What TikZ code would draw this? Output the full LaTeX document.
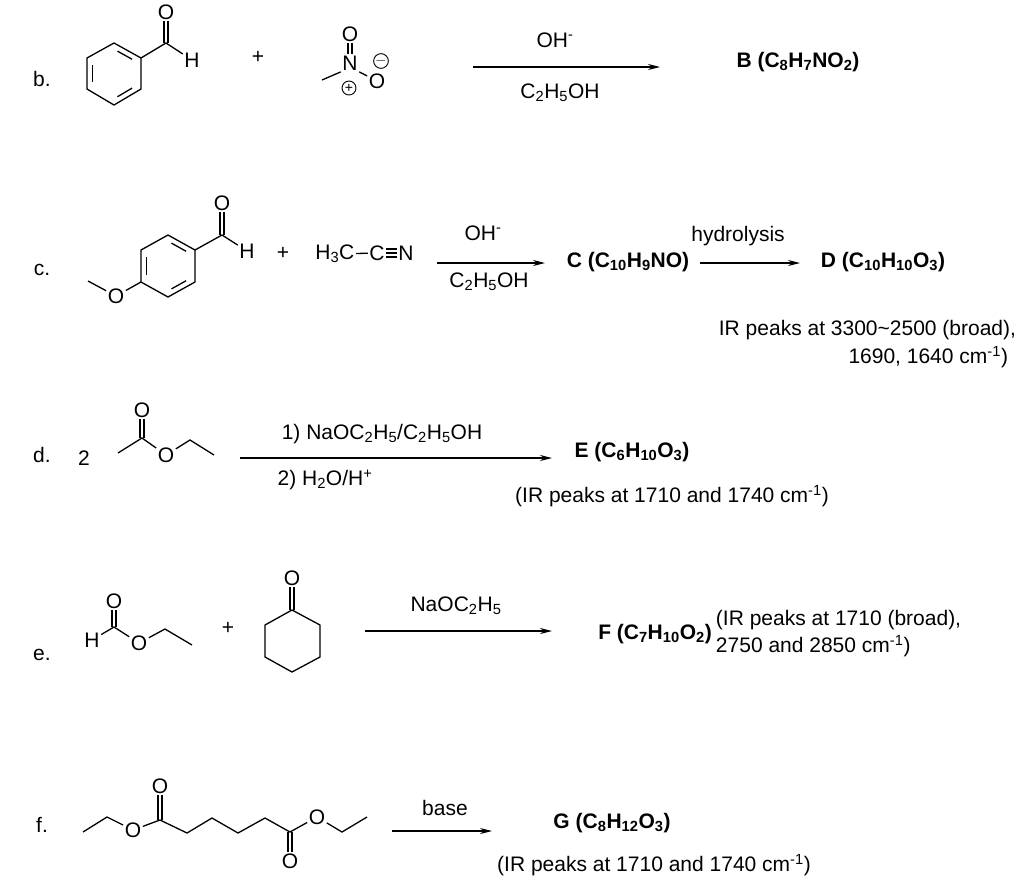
\documentclass[tikz,border=0pt]{standalone}
\usepackage{fontspec}
\setmainfont{Liberation Sans}
\usetikzlibrary{calc,arrows.meta}
\newcommand{\subs}[1]{\textsubscript{#1}}
\newcommand{\sps}[1]{\textsuperscript{#1}}
\newcommand{\arom}[3]{\draw[shorten >=4pt,shorten <=4pt] ($(#1)!0.2!(#3)$) -- ($(#2)!0.2!(#3)$);}
\begin{document}
\begin{tikzpicture}[x=1pt,y=-1pt,line width=1.3pt,
  every node/.style={font=\fontsize{21}{25}\selectfont},
  atm/.style={inner sep=1pt},
  lbl/.style={inner sep=1pt},
  prod/.style={inner sep=1pt,font=\fontsize{21}{25}\selectfont\bfseries},
  chg/.style={circle,draw,line width=0.9pt,inner sep=0pt,minimum size=14pt,font=\fontsize{14}{14}\selectfont},
  rxn/.style={-{Stealth[length=12pt,width=6pt]},line width=1.1pt}]
\useasboundingbox (0,0) rectangle (1024,887);
% ---------- b ----------
\node[lbl] (lb) at (42,79) {b.};
\coordinate (b1) at (114,43); \coordinate (b2) at (141,58); \coordinate (b3) at (141,89);
\coordinate (b4) at (114,105); \coordinate (b5) at (87,89); \coordinate (b6) at (87,58);
\coordinate (bc) at (114,74);
\draw (b1)--(b2)--(b3)--(b4)--(b5)--(b6)--cycle;
\arom{b1}{b2}{bc}\arom{b3}{b4}{bc}\arom{b5}{b6}{bc}
\coordinate (bC) at (166,43);
\node[atm] (bO) at (166,12) {O};
\node[atm] (bH) at (192,60) {H};
\draw (b2)--(bC)--(bH);
\draw ($(bC)+(-2,0)$) -- ($(bO.south)+(-2,0)$);
\draw ($(bC)+(2,0)$) -- ($(bO.south)+(2,0)$);
\node (bplus) at (258,57) {+};
\node[atm] (nN) at (350,63) {N};
\node[atm] (nO1) at (350,34) {O};
\node[atm] (nO2) at (377,81) {O};
\coordinate (nMe) at (322,80);
\draw (nMe)--(nN.south west);
\draw (nN.south east)--(nO2);
\draw ($(nN.north)+(-2,0)$) -- ($(nO1.south)+(-2,0)$);
\draw ($(nN.north)+(2,0)$) -- ($(nO1.south)+(2,0)$);
\node[chg] (pc) at (349,88) {+};
\node[chg] (mc) at (381,61) {$-$};
\coordinate (ab1) at (473,67); \coordinate (ab2) at (660,67);
\draw[rxn] (ab1)--(ab2);
\node (bOH) at (555,40) {OH\sps{-}};
\node (bEt) at (560,93) {C\subs{2}H\subs{5}OH};
\node[prod] (B) at (798,62) {B (C\subs{8}H\subs{7}NO\subs{2})};
% ---------- c ----------
\node[lbl] (lc) at (42,270) {c.};
\coordinate (c1) at (168,235); \coordinate (c2) at (195,250); \coordinate (c3) at (195,282);
\coordinate (c4) at (168,297); \coordinate (c5) at (141,282); \coordinate (c6) at (141,250);
\coordinate (cc) at (168,266);
\draw (c1)--(c2)--(c3)--(c4)--(c5)--(c6)--cycle;
\arom{c1}{c2}{cc}\arom{c3}{c4}{cc}\arom{c5}{c6}{cc}
\coordinate (cC) at (222,235);
\node[atm] (cO) at (222,203) {O};
\node[atm] (cH) at (247,251) {H};
\draw (c2)--(cC)--(cH);
\draw ($(cC)+(-2,0)$) -- ($(cO.south)+(-2,0)$);
\draw ($(cC)+(2,0)$) -- ($(cO.south)+(2,0)$);
\node[atm] (cOm) at (116,296) {O};
\coordinate (cMe) at (88,281);
\draw (c5)--(cOm)--(cMe);
\node (cplus) at (283,253) {+};
\node[atm,anchor=east] (cH3C) at (356,254) {H\subs{3}C};
\node[atm] (cCn) at (377,253) {C};
\node[atm] (cN) at (406,253) {N};
\draw (cH3C)--(cCn);
\draw (cCn.east)--(cN.west);
\draw ($(cCn.east)+(0,-4)$)--($(cN.west)+(0,-4)$);
\draw ($(cCn.east)+(0,4)$)--($(cN.west)+(0,4)$);
\coordinate (ac1) at (437,263); \coordinate (ac2) at (545,263);
\draw[rxn] (ac1)--(ac2);
\node (cOH) at (483,233) {OH\sps{-}};
\node (cEt) at (489,282) {C\subs{2}H\subs{5}OH};
\node[prod] (C) at (628,262) {C (C\subs{10}H\subs{9}NO)};
\coordinate (ac3) at (700,263); \coordinate (ac4) at (800,263);
\draw[rxn] (ac3)--(ac4);
\node (hyd) at (738,236) {hydrolysis};
\node[prod] (D) at (883,262) {D (C\subs{10}H\subs{10}O\subs{3})};
\node[anchor=east] (Dir1) at (1020,330) {IR peaks at 3300\textasciitilde 2500 (broad),};
\node[anchor=east] (Dir2) at (1012,357) {1690, 1640 cm\sps{-1})};
% ---------- d ----------
\node[lbl] (ld) at (42,455) {d.};
\node (d2) at (84,458) {2};
\coordinate (dMe) at (118,453); \coordinate (dC) at (142,438);
\node[atm] (dO) at (142,410) {O};
\node[atm] (dOe) at (166,455) {O};
\coordinate (dCH2) at (190,440); \coordinate (dCH3) at (214,455);
\draw (dMe)--(dC)--(dOe)--(dCH2)--(dCH3);
\draw ($(dC)+(-2,0)$) -- ($(dO.south)+(-2,0)$);
\draw ($(dC)+(2,0)$) -- ($(dO.south)+(2,0)$);
\coordinate (ad1) at (240,458); \coordinate (ad2) at (552,458);
\draw[rxn] (ad1)--(ad2);
\node (dr1) at (382,434) {1) NaOC\subs{2}H\subs{5}/C\subs{2}H\subs{5}OH};
\node (dr2) at (325,480) {2) H\subs{2}O/H\sps{+}};
\node[prod] (E) at (632,452) {E (C\subs{6}H\subs{10}O\subs{3})};
\node (Eir) at (672,496) {(IR peaks at 1710 and 1740 cm\sps{-1})};
% ---------- e ----------
\node[lbl] (le) at (42,655) {e.};
\node[atm] (eH) at (92,640) {H};
\coordinate (eC) at (114,627);
\node[atm] (eO) at (114,601) {O};
\node[atm] (eOe) at (139,643) {O};
\coordinate (eCH2) at (165,629); \coordinate (eCH3) at (192,645);
\draw (eH)--(eC)--(eOe)--(eCH2)--(eCH3);
\draw ($(eC)+(-2,0)$) -- ($(eO.south)+(-2,0)$);
\draw ($(eC)+(2,0)$) -- ($(eO.south)+(2,0)$);
\node (eplus) at (228,628) {+};
\coordinate (k1) at (292,610); \coordinate (k2) at (320,625); \coordinate (k3) at (320,657);
\coordinate (k4) at (292,672); \coordinate (k5) at (265,657); \coordinate (k6) at (265,625);
\draw (k1)--(k2)--(k3)--(k4)--(k5)--(k6)--cycle;
\node[atm] (kO) at (292,578) {O};
\draw ($(k1)+(-2,0)$) -- ($(kO.south)+(-2,0)$);
\draw ($(k1)+(2,0)$) -- ($(kO.south)+(2,0)$);
\coordinate (ae1) at (365,631); \coordinate (ae2) at (552,631);
\draw[rxn] (ae1)--(ae2);
\node (er) at (456,606) {NaOC\subs{2}H\subs{5}};
\node[prod] (F) at (655,634) {F (C\subs{7}H\subs{10}O\subs{2})};
\node[anchor=west] (Fir1) at (712,620) {(IR peaks at 1710 (broad),};
\node[anchor=west] (Fir2) at (712,646) {2750 and 2850 cm\sps{-1})};
% ---------- f ----------
\node[lbl] (lf) at (42,825) {f.};
\coordinate (f1) at (83,832); \coordinate (f2) at (107,817);
\node[atm] (fO1) at (133,830) {O};
\coordinate (f3) at (160,820);
\node[atm] (fOt) at (160,786) {O};
\coordinate (f4) at (187,833); \coordinate (f5) at (212,818); \coordinate (f6) at (238,833);
\coordinate (f7) at (265,818); \coordinate (f8) at (290,832);
\node[atm] (fOb) at (290,861) {O};
\node[atm] (fO2) at (317,817) {O};
\coordinate (f9) at (342,832); \coordinate (f10) at (367,817);
\draw (f1)--(f2)--(fO1)--(f3)--(f4)--(f5)--(f6)--(f7)--(f8)--(fO2)--(f9)--(f10);
\draw ($(f3)+(-2,0)$) -- ($(fOt.south)+(-2,0)$);
\draw ($(f3)+(2,0)$) -- ($(fOt.south)+(2,0)$);
\draw ($(f8)+(-2,0)$) -- ($(fOb.north)+(-2,0)$);
\draw ($(f8)+(2,0)$) -- ($(fOb.north)+(2,0)$);
\coordinate (af1) at (392,831); \coordinate (af2) at (492,831);
\draw[rxn] (af1)--(af2);
\node (fr) at (445,808) {base};
\node[prod] (G) at (612,823) {G (C\subs{8}H\subs{12}O\subs{3})};
\node (Gir) at (654,865) {(IR peaks at 1710 and 1740 cm\sps{-1})};
\end{tikzpicture}
\end{document}
